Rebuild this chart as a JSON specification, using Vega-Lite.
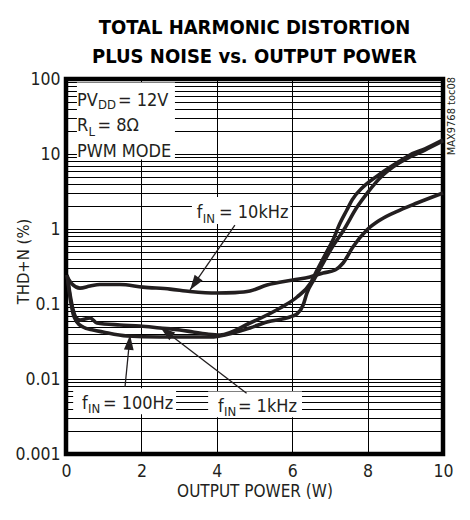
{
  "$schema": "https://vega.github.io/schema/vega-lite/v6.json",
  "width": 377,
  "height": 375,
  "autosize": "none",
  "padding": {"left": 66, "top": 79, "right": 27, "bottom": 66},
  "background": "#ffffff",
  "title": {
    "text": ["TOTAL HARMONIC DISTORTION", "PLUS NOISE vs. OUTPUT POWER"],
    "anchor": "middle",
    "frame": "group",
    "font": "DejaVu Sans Condensed, sans-serif",
    "fontSize": 20,
    "fontWeight": "bold",
    "lineHeight": 29,
    "color": "#000000",
    "offset": 3
  },
  "datasets": {
    "curves": [
      {"series": "10kHz", "x": 0.03, "y": 0.229},
      {"series": "10kHz", "x": 0.16, "y": 0.185},
      {"series": "10kHz", "x": 0.37, "y": 0.163},
      {"series": "10kHz", "x": 0.64, "y": 0.174},
      {"series": "10kHz", "x": 0.9, "y": 0.182},
      {"series": "10kHz", "x": 1.43, "y": 0.182},
      {"series": "10kHz", "x": 2.04, "y": 0.168},
      {"series": "10kHz", "x": 2.76, "y": 0.158},
      {"series": "10kHz", "x": 3.29, "y": 0.147},
      {"series": "10kHz", "x": 4.0, "y": 0.14},
      {"series": "10kHz", "x": 4.48, "y": 0.142},
      {"series": "10kHz", "x": 4.88, "y": 0.149},
      {"series": "10kHz", "x": 5.33, "y": 0.179},
      {"series": "10kHz", "x": 6.02, "y": 0.209},
      {"series": "10kHz", "x": 6.47, "y": 0.229},
      {"series": "10kHz", "x": 6.82, "y": 0.259},
      {"series": "10kHz", "x": 7.14, "y": 0.284},
      {"series": "10kHz", "x": 7.35, "y": 0.352},
      {"series": "10kHz", "x": 7.61, "y": 0.575},
      {"series": "10kHz", "x": 7.98, "y": 0.97},
      {"series": "10kHz", "x": 8.33, "y": 1.32},
      {"series": "10kHz", "x": 8.86, "y": 1.79},
      {"series": "10kHz", "x": 9.31, "y": 2.22},
      {"series": "10kHz", "x": 10.0, "y": 3.02},
      {"series": "1kHz", "x": 0.03, "y": 0.243},
      {"series": "1kHz", "x": 0.11, "y": 0.132},
      {"series": "1kHz", "x": 0.19, "y": 0.083},
      {"series": "1kHz", "x": 0.27, "y": 0.065},
      {"series": "1kHz", "x": 0.37, "y": 0.061},
      {"series": "1kHz", "x": 0.64, "y": 0.065},
      {"series": "1kHz", "x": 0.82, "y": 0.0558},
      {"series": "1kHz", "x": 1.43, "y": 0.0525},
      {"series": "1kHz", "x": 1.96, "y": 0.0509},
      {"series": "1kHz", "x": 2.49, "y": 0.0479},
      {"series": "1kHz", "x": 3.02, "y": 0.0451},
      {"series": "1kHz", "x": 3.37, "y": 0.0423},
      {"series": "1kHz", "x": 3.74, "y": 0.0398},
      {"series": "1kHz", "x": 4.08, "y": 0.0386},
      {"series": "1kHz", "x": 4.88, "y": 0.0558},
      {"series": "1kHz", "x": 5.68, "y": 0.0885},
      {"series": "1kHz", "x": 6.13, "y": 0.124},
      {"series": "1kHz", "x": 6.47, "y": 0.185},
      {"series": "1kHz", "x": 6.66, "y": 0.284},
      {"series": "1kHz", "x": 6.87, "y": 0.45},
      {"series": "1kHz", "x": 7.08, "y": 0.713},
      {"series": "1kHz", "x": 7.27, "y": 1.2},
      {"series": "1kHz", "x": 7.45, "y": 1.79},
      {"series": "1kHz", "x": 7.59, "y": 2.44},
      {"series": "1kHz", "x": 7.88, "y": 3.63},
      {"series": "1kHz", "x": 8.33, "y": 5.41},
      {"series": "1kHz", "x": 8.86, "y": 8.07},
      {"series": "1kHz", "x": 9.12, "y": 9.7},
      {"series": "1kHz", "x": 9.52, "y": 11.7},
      {"series": "1kHz", "x": 10.0, "y": 15.4},
      {"series": "100Hz", "x": 0.03, "y": 0.243},
      {"series": "100Hz", "x": 0.11, "y": 0.12},
      {"series": "100Hz", "x": 0.19, "y": 0.0736},
      {"series": "100Hz", "x": 0.29, "y": 0.0575},
      {"series": "100Hz", "x": 0.45, "y": 0.0493},
      {"series": "100Hz", "x": 0.72, "y": 0.045},
      {"series": "100Hz", "x": 0.98, "y": 0.0423},
      {"series": "100Hz", "x": 1.62, "y": 0.0374},
      {"series": "100Hz", "x": 2.49, "y": 0.0363},
      {"series": "100Hz", "x": 3.82, "y": 0.0363},
      {"series": "100Hz", "x": 4.08, "y": 0.0374},
      {"series": "100Hz", "x": 4.88, "y": 0.0479},
      {"series": "100Hz", "x": 5.33, "y": 0.0575},
      {"series": "100Hz", "x": 5.94, "y": 0.0671},
      {"series": "100Hz", "x": 6.13, "y": 0.0736},
      {"series": "100Hz", "x": 6.29, "y": 0.097},
      {"series": "100Hz", "x": 6.39, "y": 0.14},
      {"series": "100Hz", "x": 6.6, "y": 0.222},
      {"series": "100Hz", "x": 6.82, "y": 0.352},
      {"series": "100Hz", "x": 7.08, "y": 0.593},
      {"series": "100Hz", "x": 7.35, "y": 0.94},
      {"series": "100Hz", "x": 7.72, "y": 1.96},
      {"series": "100Hz", "x": 8.01, "y": 3.11},
      {"series": "100Hz", "x": 8.41, "y": 5.25},
      {"series": "100Hz", "x": 8.67, "y": 6.71},
      {"series": "100Hz", "x": 9.12, "y": 9.12},
      {"series": "100Hz", "x": 9.52, "y": 11.3},
      {"series": "100Hz", "x": 10.0, "y": 14.9}
    ],
    "boxes": [
      {"x": 0.29, "x2": 2.89, "y": 8.45, "y2": 90},
      {"x": 3.34, "x2": 5.95, "y": 1.17, "y2": 2.67},
      {"x": 0.19, "x2": 2.92, "y": 0.0034, "y2": 0.0075},
      {"x": 3.77, "x2": 6.26, "y": 0.0031, "y2": 0.0068}
    ],
    "arrows": [
      {"label": "10kHz", "x": 4.48, "y": 1.13, "x2": 3.29, "y2": 0.154},
      {"label": "100Hz", "x": 1.565, "y": 0.00782, "x2": 1.7, "y2": 0.0386},
      {"label": "1kHz", "x": 4.79, "y": 0.00645, "x2": 2.5, "y2": 0.0489}
    ],
    "heads": [
      {"label": "10kHz", "x": 3.29, "y": 0.154},
      {"label": "100Hz", "x": 1.7, "y": 0.0386},
      {"label": "1kHz", "x": 2.5, "y": 0.0489}
    ],
    "notes": [
      {"x": 0.29, "y": 43.6, "text": "PV"},
      {"x": 1.38, "y": 43.6, "text": "= 12V"},
      {"x": 0.29, "y": 20.2, "text": "R"},
      {"x": 0.835, "y": 20.2, "text": "= 8Ω"},
      {"x": 0.29, "y": 9.12, "text": "PWM MODE"},
      {"x": 3.47, "y": 1.4, "text": "f"},
      {"x": 4.06, "y": 1.4, "text": "= 10kHz"},
      {"x": 0.424, "y": 0.00398, "text": "f"},
      {"x": 0.98, "y": 0.00398, "text": "= 100Hz"},
      {"x": 4.03, "y": 0.00367, "text": "f"},
      {"x": 4.56, "y": 0.00367, "text": "= 1kHz"}
    ],
    "subs": [
      {"x": 0.85, "y": 39.4, "text": "DD"},
      {"x": 0.597, "y": 17.4, "text": "L"},
      {"x": 3.63, "y": 1.2, "text": "IN"},
      {"x": 0.584, "y": 0.00357, "text": "IN"},
      {"x": 4.19, "y": 0.00321, "text": "IN"}
    ],
    "credit": [
      {"x": 10.24, "y": 32, "text": "MAX9768 toc08"}
    ]
  },
  "encoding": {
    "x": {
      "field": "x",
      "type": "quantitative",
      "scale": {"domain": [0, 10], "nice": false, "zero": false},
      "axis": {
        "title": "OUTPUT POWER (W)",
        "values": [0, 2, 4, 6, 8, 10],
        "grid": true,
        "gridColor": "#000000",
        "gridWidth": 1,
        "gridOpacity": 1,
        "ticks": false,
        "tickSize": 0,
        "domain": false,
        "labelFlush": false,
        "labelPadding": 8,
        "labelFontSize": 17.5,
        "titleFontSize": 17,
        "titlePadding": 4
      }
    },
    "y": {
      "field": "y",
      "type": "quantitative",
      "scale": {"type": "log", "domain": [0.001, 100], "nice": false},
      "axis": {
        "title": "THD+N (%)",
        "values": [0.001, 0.002, 0.003, 0.004, 0.005, 0.006, 0.007, 0.008, 0.009,
                   0.01, 0.02, 0.03, 0.04, 0.05, 0.06, 0.07, 0.08, 0.09,
                   0.1, 0.2, 0.3, 0.4, 0.5, 0.6, 0.7, 0.8, 0.9,
                   1, 2, 3, 4, 5, 6, 7, 8, 9,
                   10, 20, 30, 40, 50, 60, 70, 80, 90, 100],
        "labelExpr": "indexof(['0.001', '0.01', '0.1', '1', '10', '100'], format(datum.value, '~g')) >= 0 ? format(datum.value, '~g') : ''",
        "grid": true,
        "gridColor": "#000000",
        "gridWidth": 1,
        "gridOpacity": 1,
        "ticks": false,
        "tickSize": 0,
        "domain": false,
        "labelPadding": 6,
        "labelFontSize": 17.5,
        "titleFontSize": 16.5,
        "titleAngle": -90,
        "titleAlign": "center",
        "titleBaseline": "middle",
        "titleX": -43,
        "titleY": 182
      }
    }
  },
  "layer": [
    {
      "data": {"name": "boxes"},
      "mark": {"type": "rect", "color": "#ffffff"},
      "encoding": {
        "x2": {"field": "x2"},
        "y2": {"field": "y2"}
      }
    },
    {
      "data": {"name": "curves"},
      "mark": {"type": "line", "color": "#231f20", "strokeWidth": 3.6, "interpolate": "monotone"},
      "encoding": {
        "detail": {"field": "series", "type": "nominal"}
      }
    },
    {
      "data": {"name": "arrows"},
      "mark": {"type": "rule", "color": "#231f20", "strokeWidth": 1.3},
      "encoding": {
        "x2": {"field": "x2"},
        "y2": {"field": "y2"}
      }
    },
    {
      "data": {"name": "heads"},
      "transform": [{"filter": "datum.label == '10kHz'"}],
      "mark": {"type": "point", "shape": "M0,0L0.65,2L-0.65,2Z", "size": 225, "filled": true, "color": "#231f20", "opacity": 1, "angle": 215}
    },
    {
      "data": {"name": "heads"},
      "transform": [{"filter": "datum.label == '100Hz'"}],
      "mark": {"type": "point", "shape": "M0,0L0.65,2L-0.65,2Z", "size": 225, "filled": true, "color": "#231f20", "opacity": 1, "angle": 5}
    },
    {
      "data": {"name": "heads"},
      "transform": [{"filter": "datum.label == '1kHz'"}],
      "mark": {"type": "point", "shape": "M0,0L0.65,2L-0.65,2Z", "size": 225, "filled": true, "color": "#231f20", "opacity": 1, "angle": 307}
    },
    {
      "data": {"name": "notes"},
      "mark": {"type": "text", "align": "left", "baseline": "alphabetic", "fontSize": 18, "color": "#231f20"},
      "encoding": {
        "text": {"field": "text"}
      }
    },
    {
      "data": {"name": "subs"},
      "mark": {"type": "text", "align": "left", "baseline": "alphabetic", "fontSize": 13, "color": "#231f20"},
      "encoding": {
        "text": {"field": "text"}
      }
    },
    {
      "data": {"name": "credit"},
      "mark": {"type": "text", "align": "center", "baseline": "middle", "angle": 270, "fontSize": 11, "color": "#231f20"},
      "encoding": {
        "text": {"field": "text"}
      }
    }
  ],
  "config": {
    "view": {"stroke": "#000000", "strokeWidth": 4.5},
    "font": "DejaVu Sans Condensed, sans-serif",
    "axis": {
      "labelFont": "DejaVu Sans Condensed, sans-serif",
      "titleFont": "DejaVu Sans Condensed, sans-serif",
      "labelColor": "#231f20",
      "titleColor": "#231f20",
      "titleFontWeight": "normal"
    },
    "text": {"font": "DejaVu Sans Condensed, sans-serif"}
  }
}
